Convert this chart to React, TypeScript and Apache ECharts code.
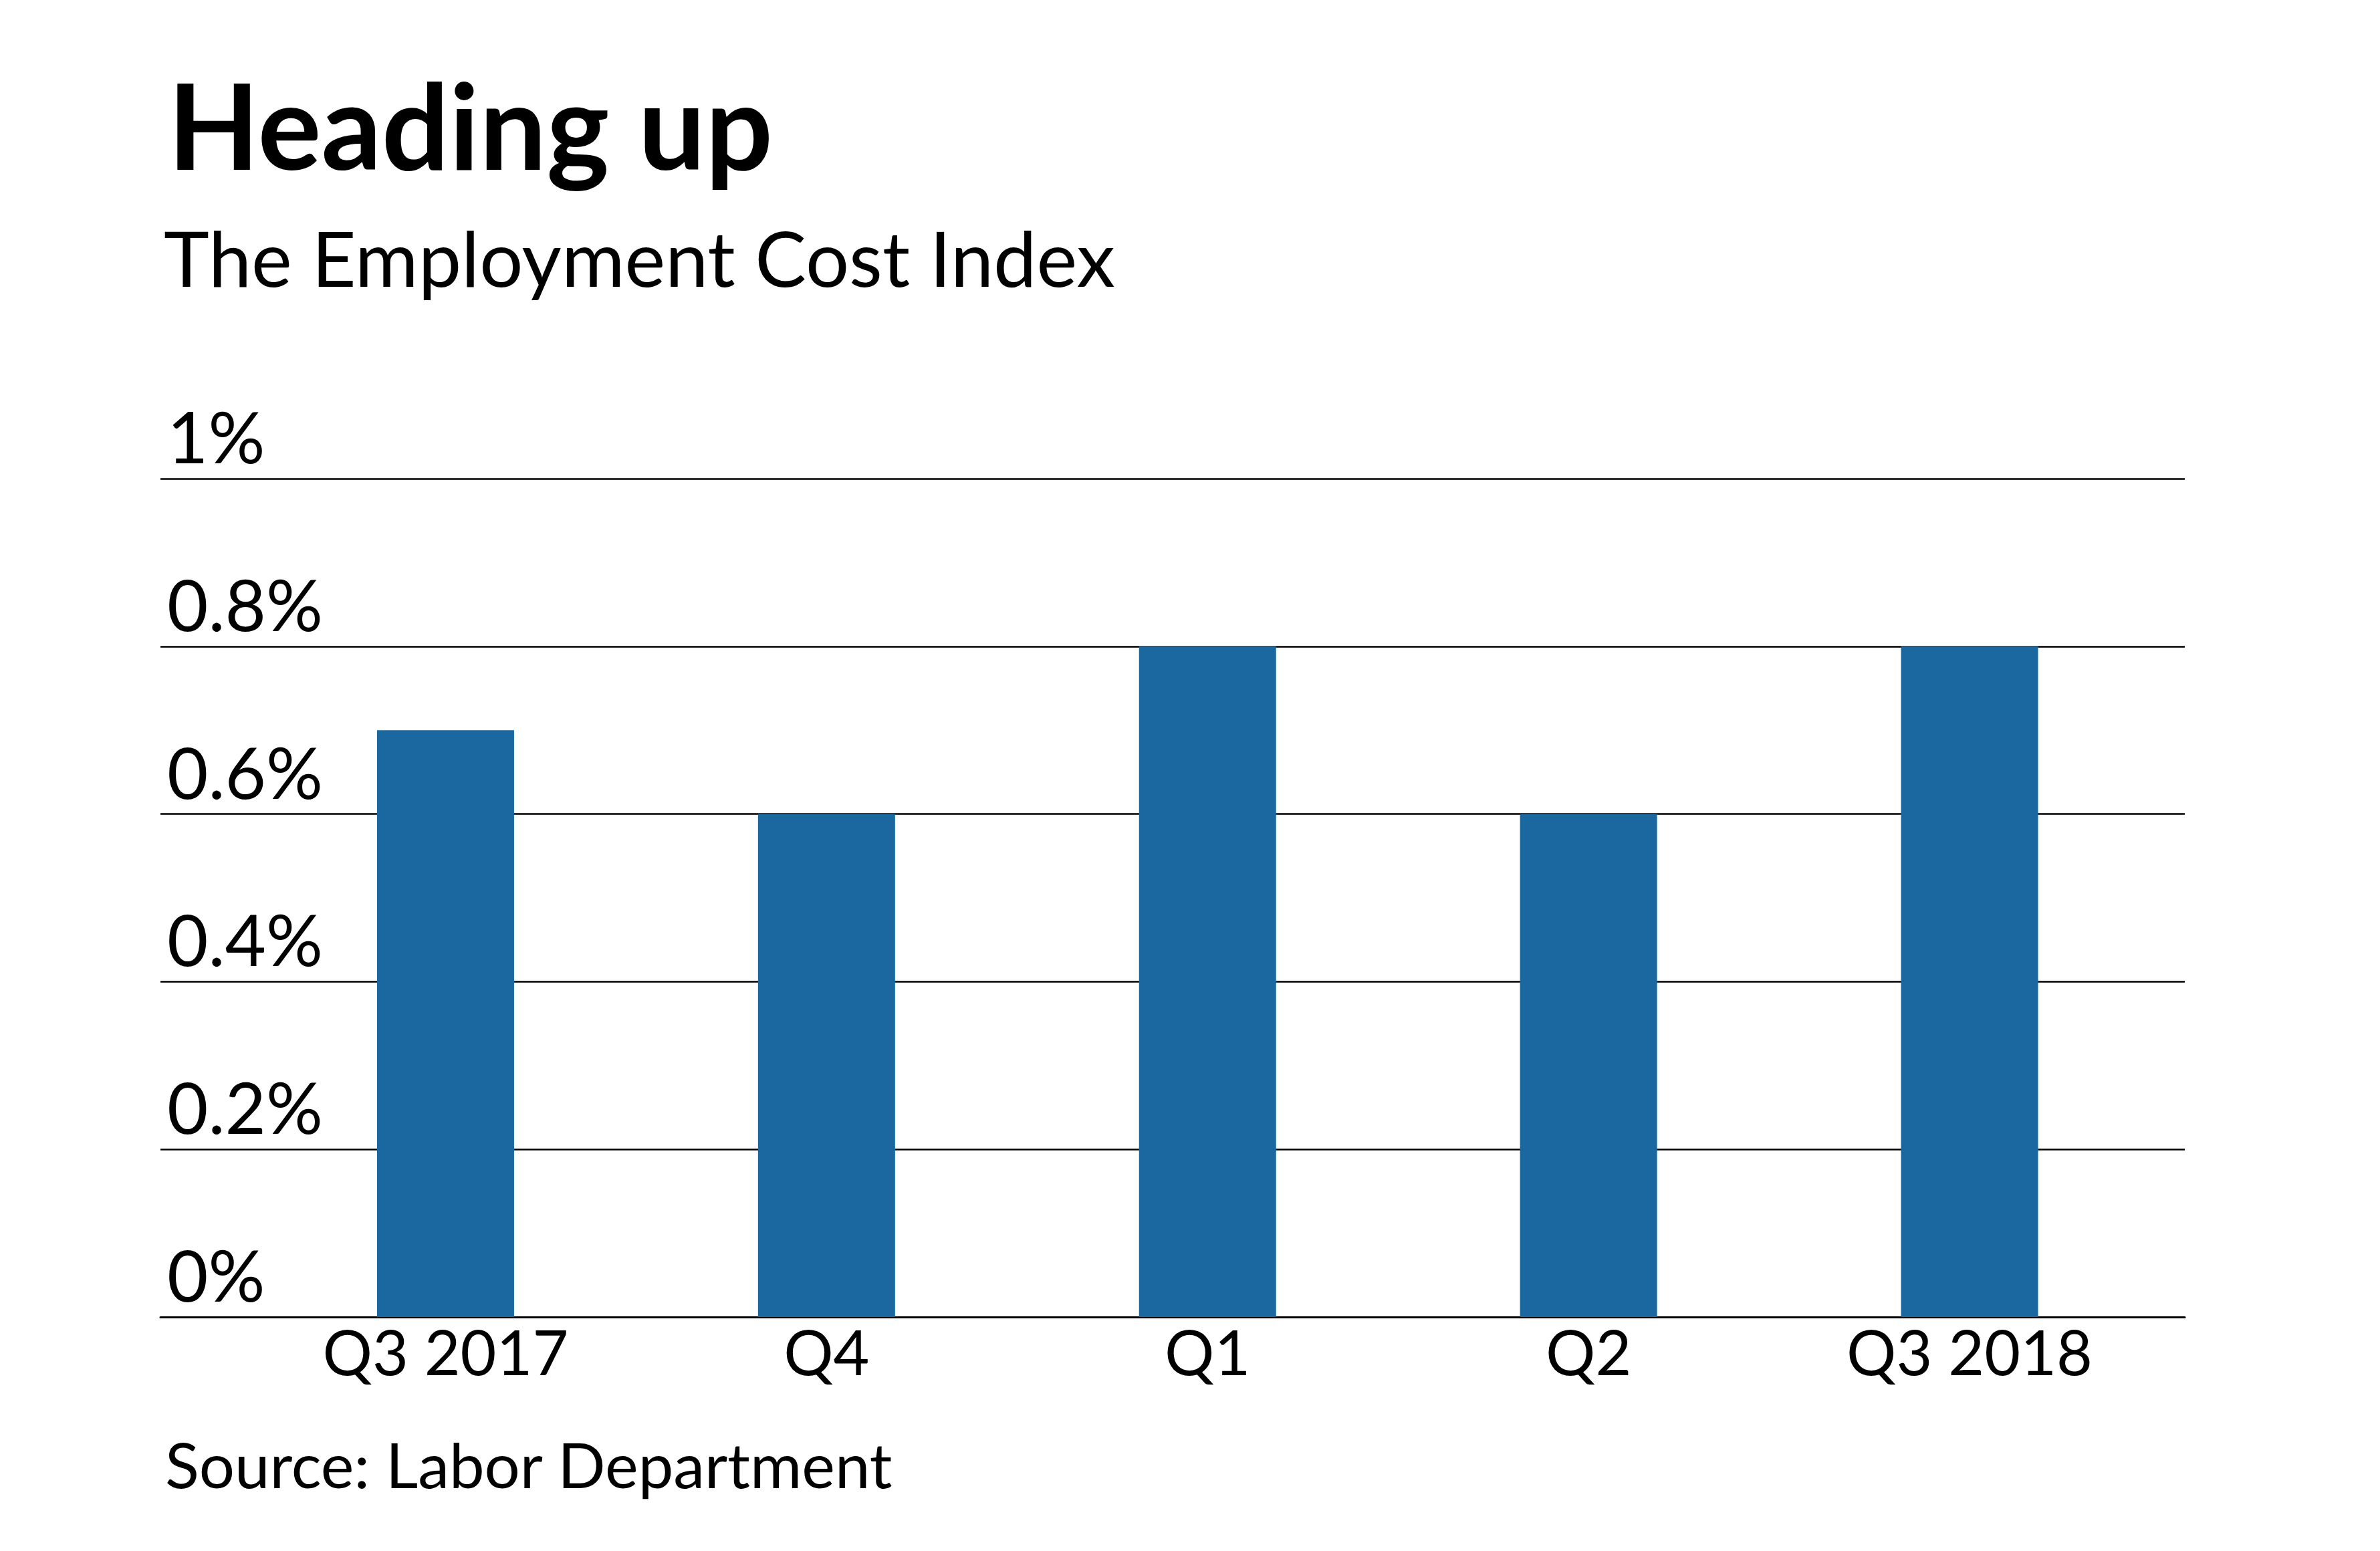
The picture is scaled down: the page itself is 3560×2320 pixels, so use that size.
import React, { useEffect, useRef } from "react";
import * as echarts from "echarts";

const categories = ["Q3 2017", "Q4", "Q1", "Q2", "Q3 2018"];
const values = [0.7, 0.6, 0.8, 0.6, 0.8];
const yMin = 0;
const yMax = 1;
const yInterval = 0.2;

const TITLE = "Heading up";
const SUBTITLE = "The Employment Cost Index";
const SOURCE = "Source: Labor Department";

const FONT = "Lato";

function fmtPct(v: number): string {
  if (Math.abs(v) < 1e-9) return "0%";
  if (Math.abs(v - 1) < 1e-9) return "1%";
  return v.toFixed(1) + "%";
}

export default function App() {
  const ref = useRef<HTMLDivElement>(null);
  useEffect(() => {
    document.body.style.margin = "0";
    const chart = echarts.init(ref.current!, null, { renderer: "svg" });
    chart.setOption({
      animation: false,
      backgroundColor: "#ffffff",
      title: [
        {
          text: TITLE,
          left: 246,
          top: 91,
          textStyle: { fontFamily: FONT, fontSize: 178, fontWeight: "bold", color: "#000" },
        },
        {
          text: SUBTITLE,
          left: 240,
          top: 321,
          textStyle: { fontFamily: FONT, fontSize: 115, fontWeight: "normal", color: "#000" },
        },
        {
          text: SOURCE,
          left: 242,
          top: 2137,
          textStyle: { fontFamily: FONT, fontSize: 94, fontWeight: "normal", color: "#000" },
        },
      ],
      grid: [
        { left: 240, right: 292, top: 716, bottom: 350 },
        { left: 381.5, right: 329, top: 716, bottom: 350 },
      ],
      xAxis: [
        {
          type: "value",
          gridIndex: 0,
          min: 0,
          max: 1,
          axisLine: { show: true, onZero: false, lineStyle: { color: "#000", width: 3 } },
          axisTick: { show: false },
          axisLabel: { show: false },
          splitLine: { show: false },
        },
        {
          type: "category",
          gridIndex: 1,
          data: categories,
          axisLine: { show: false },
          axisTick: { show: false },
          axisLabel: {
            fontFamily: FONT,
            fontSize: 93,
            color: "#000",
            margin: 4,
          },
        },
      ],
      yAxis: [
        {
          type: "value",
          gridIndex: 0,
          min: yMin,
          max: yMax,
          interval: yInterval,
          axisLine: { show: false },
          axisTick: { show: false },
          splitLine: { show: true, lineStyle: { color: "#000", width: 2.5 } },
          axisLabel: {
            inside: true,
            margin: 10,
            align: "left",
            verticalAlign: "bottom",
            padding: [0, 0, 11, 0],
            fontFamily: FONT,
            fontSize: 106,
            color: "#000",
            formatter: (v: number) => fmtPct(v),
          },
        },
        {
          type: "value",
          gridIndex: 1,
          min: yMin,
          max: yMax,
          interval: yInterval,
          show: false,
          splitLine: { show: false },
        },
      ],
      series: [
        {
          type: "bar",
          xAxisIndex: 1,
          yAxisIndex: 1,
          data: values,
          barWidth: 205,
          itemStyle: { color: "#1a689f" },
          z: 3,
        },
      ],
    });
    return () => chart.dispose();
  }, []);
  return <div ref={ref} style={{ width: 3560, height: 2320 }} />;
}
